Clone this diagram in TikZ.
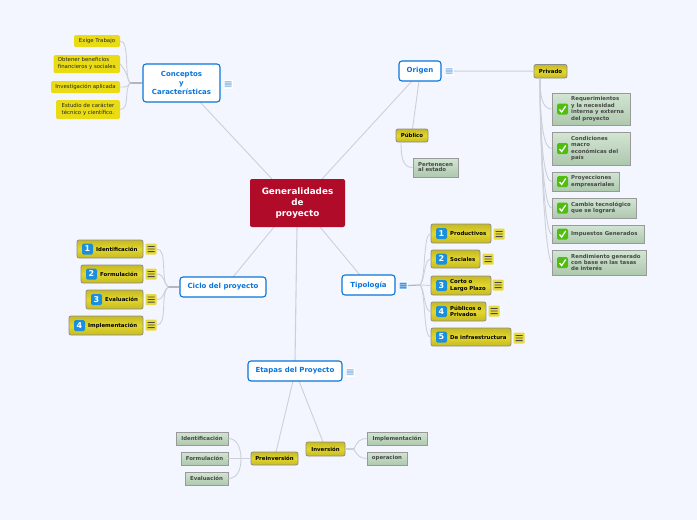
\documentclass[tikz,border=0pt]{standalone}
\usepackage{fontspec}
\setmainfont{DejaVu Sans}
\definecolor{bgc}{HTML}{F3F6FF}
\definecolor{blu}{HTML}{0A74DA}
\definecolor{lnk}{HTML}{CDD0D9}
\definecolor{stem}{HTML}{B4B6BC}
\definecolor{rootc}{HTML}{B00B28}
\definecolor{leafc}{HTML}{E9DC14}
\definecolor{yt}{HTML}{C6BA22}
\definecolor{ym}{HTML}{E2D62E}
\definecolor{gt}{HTML}{D2E6D3}
\definecolor{gb}{HTML}{AEC8AE}
\definecolor{numb}{HTML}{1A90DC}
\definecolor{chkc}{HTML}{4FBE10}
\definecolor{menul}{HTML}{A4C8EC}
\definecolor{menud}{HTML}{4C98DC}
\definecolor{menuy}{HTML}{E6DA3C}
\tikzset{
 x=1pt,y=-1pt,
 topic/.style={draw=blu,line width=1.1pt,fill=white,rounded corners=3pt,text=blu,font=\fontsize{7}{9.2}\selectfont\bfseries,align=center,inner sep=0pt},
 rootn/.style={fill=rootc,rounded corners=2pt,text=white,font=\fontsize{8.8}{11.2}\selectfont\bfseries,align=center,inner sep=0pt},
 leafy/.style={fill=leafc,rounded corners=1.5pt,text=black!85,font=\fontsize{5.4}{7}\selectfont,align=center,inner sep=0pt},
 ybox/.style={draw=black!45,line width=.8pt,top color=yt,bottom color=yt,middle color=ym,rounded corners=2pt,text=black,font=\fontsize{5.4}{6.6}\selectfont\bfseries,align=center,inner sep=0pt},
 gbox/.style={draw=black!40,line width=.8pt,top color=gt,bottom color=gb,text=black!72,font=\fontsize{5.4}{6.4}\selectfont\bfseries,align=center,inner sep=0pt},
 ytxt/.style={text=black,font=\fontsize{5.4}{6.6}\selectfont\bfseries,align=left,inner sep=0pt,anchor=west},
 gtxt/.style={text=black!72,font=\fontsize{5.4}{6.4}\selectfont\bfseries,align=left,inner sep=0pt,anchor=west},
 lnkl/.style={draw=lnk,line width=.9pt},
 lnkb/.style={draw=stem,line width=1.2pt},
 iconbg/.style={inner sep=0pt,minimum width=9pt,minimum height=9pt,fill=white},
 yiconbg/.style={inner sep=0pt,minimum width=11pt,minimum height=11pt,fill=menuy,rounded corners=1pt},
 numn/.style={inner sep=0pt,minimum width=11pt,minimum height=11pt,fill=numb,rounded corners=1.5pt,text=white,font=\fontsize{8}{8}\selectfont\bfseries},
 chkn/.style={inner sep=0pt,minimum width=11pt,minimum height=11pt,fill=chkc,rounded corners=1.5pt},
}
% style,name,x0,y0,x1,y1,text
\newcommand{\nbox}[7]{\node[#1,minimum width={(#5-#3)*1pt},minimum height={(#6-#4)*1pt}] (#2) at ({(#3+#5)/2},{(#4+#6)/2}) {#7};}
% numbered yellow box: name,x0,y0,x1,y1,number,text
\newcommand{\numbox}[7]{\nbox{ybox}{#1}{#2}{#3}{#4}{#5}{}
 \node[numn] (#1n) at ({#2+10.5},{(#3+#5)/2}) {#6};
 \node[ytxt] (#1t) at ({#2+19},{(#3+#5)/2}) {#7};}
% checked green box: name,x0,y0,x1,y1,text
\newcommand{\chkbox}[6]{\nbox{gbox}{#1}{#2}{#3}{#4}{#5}{}
 \node[chkn] (#1n) at ({#2+10.5},{(#3+#5)/2}) {};
 \draw[white,line width=1.3pt] ([shift={(-3,.5)}]#1n.center) -- ([shift={(-.8,3)}]#1n.center) -- ([shift={(3.2,-3)}]#1n.center);
 \node[gtxt] (#1t) at ({#2+19},{(#3+#5)/2}) {#6};}
\newcommand{\menuicon}[4]{\node[iconbg] (#1) at (#2,#3) {};
 \fill[#4] (#2-3.5,#3-3) rectangle (#2+3.5,#3-1.4) (#2-3.5,#3-.8) rectangle (#2+3.5,#3+.8) (#2-3.5,#3+1.4) rectangle (#2+3.5,#3+3);}
\newcommand{\ymenu}[3]{\node[yiconbg] (#1) at (#2,#3) {};
 \fill[black!72] (#2-3.5,#3-3) rectangle (#2+3.5,#3-2.2) (#2-3.5,#3-.4) rectangle (#2+3.5,#3+.4) (#2-3.5,#3+2.2) rectangle (#2+3.5,#3+3);}
% curve from a junction to the side of a child
\newcommand{\curveto}[4]{\draw[lnkl] (#1) .. controls #3 and #4 .. (#2);}
\begin{document}
\begin{tikzpicture}
\useasboundingbox (0,0) rectangle (697,520);
\fill[bgc] (0,0) rectangle (697,520);
% anchors of connectors
\coordinate (jc) at (130,83);
\coordinate (jt) at (420,285);
\coordinate (jz) at (168,287);
\coordinate (jp) at (540,78);
\coordinate (jb) at (401,142);
\coordinate (ji) at (354,449);
\coordinate (jq) at (241,459);
\coordinate (rtl) at (272,179);
\coordinate (rtr) at (322,179);
\coordinate (rbl) at (274,227);
\coordinate (rbr) at (320,227);
\coordinate (rbm) at (297,227);
\coordinate (cc) at (200,102);
\coordinate (oo) at (412,81);
\coordinate (ob) at (419,81);
\coordinate (pu) at (412.5,129);
\coordinate (cy) at (233,277);
\coordinate (ti) at (360,275);
\coordinate (et) at (295,361);
\coordinate (el) at (293,381);
\coordinate (er) at (299,381);
\coordinate (pr) at (276,452);
\coordinate (iv) at (323,442);
% connectors first
\draw[lnkl] (cc) -- (rtl);
\draw[lnkl] (oo) -- (rtr);
\draw[lnkl] (cy) -- (rbl);
\draw[lnkl] (ti) -- (rbr);
\draw[lnkl,line width=1.1pt] (et) -- (rbm);
\draw[lnkl] (ob) -- (pu);
\draw[lnkl] (el) -- (pr);
\draw[lnkl] (er) -- (iv);
% nodes
\nbox{rootn}{root}{250}{179}{345}{227}{Generalidades\\de\\proyecto}
\nbox{topic}{conc}{143}{64}{220}{102}{Conceptos\\y\\Características}
\nbox{topic}{orig}{399}{61}{441}{81}{Origen}
\nbox{topic}{tipo}{342}{275}{395}{295}{Tipología}
\nbox{topic}{ciclo}{180}{277}{266}{297}{Ciclo del proyecto}
\nbox{topic}{etap}{248}{361}{342}{381}{Etapas del Proyecto}
\menuicon{mc}{228}{84}{menul}
\menuicon{mo}{449}{71}{menul}
\menuicon{mt}{403}{285.5}{menud}
\menuicon{me}{350}{372}{menul}
% Conceptos
\nbox{leafy}{c1}{74}{35}{120}{47}{Exige Trabajo}
\nbox{leafy,align=left}{c2}{53.5}{55}{120}{73}{Obtener beneficios\\financieros y sociales}
\nbox{leafy}{c3}{51}{81}{120}{93}{Investigación aplicada}
\nbox{leafy,align=left}{c4}{56}{100}{120}{119}{Estudio de carácter\\técnico y científico.}
\draw[lnkb] (conc.west |- jc) -- (jc);
\curveto{jc}{c1.east}{(124,76)}{(130,41)}
\curveto{jc}{c2.east}{(127,79)}{(128,73)}
\curveto{jc}{c3.east}{(127,86)}{(130,87)}
\curveto{jc}{c4.east}{(124,90)}{(130,109.5)}
% Origen
\nbox{ybox}{priv}{534}{64.5}{567}{78}{Privado}
\nbox{ybox}{publ}{396}{129}{428}{142}{Público}
\nbox{gbox}{pert}{413}{158}{458}{177}{\begin{tabular}{@{}l@{}}Pertenecen\\[-1.3pt]al estado\end{tabular}}
\draw[lnkl,line width=1pt] (mo.east) -- (priv.west);
\curveto{jb}{pert.west}{(401,158)}{(403,167.5)}
\chkbox{g1}{552}{93}{630}{125}{Requerimientos\\y la necesidad\\interna y externa\\del proyecto}
\chkbox{g2}{552}{132}{630.5}{165}{Condiciones\\macro\\económicas del\\país}
\chkbox{g3}{552}{172}{619}{191}{Proyecciones\\empresariales}
\chkbox{g4}{552}{198}{636}{218}{Cambio tecnológico\\que se logrará}
\chkbox{g5}{552}{225}{644}{243}{Impuestos Generados}
\chkbox{g6}{552}{250}{646}{275}{Rendimiento generado\\con base en las tasas\\de interés}
\draw[stem,line width=.9pt] (jp) -- (540,105);
\curveto{jp}{g1.west}{(540,98)}{(543,109)}
\curveto{jp}{g2.west}{(540,125)}{(544,148.5)}
\curveto{jp}{g3.west}{(540,150)}{(545,181.5)}
\curveto{jp}{g4.west}{(540,170)}{(546,208)}
\curveto{jp}{g5.west}{(541,190)}{(547,234)}
\curveto{jp}{g6.west}{(541,205)}{(548,262.5)}
% Tipologia
\numbox{t1}{431}{224}{491}{243}{1}{Productivos}
\numbox{t2}{431}{250}{480}{268}{2}{Sociales}
\numbox{t3}{431}{276}{491}{295}{3}{Corto o\\Largo Plazo}
\numbox{t4}{431}{302}{486}{321}{4}{Públicos o\\Privados}
\numbox{t5}{431}{328}{511}{346}{5}{De infraestructura}
\ymenu{y1}{499}{234}
\ymenu{y2}{488}{259}
\ymenu{y3}{498}{285}
\ymenu{y4}{494}{311}
\ymenu{y5}{519}{338}
\draw[lnkb] (mt.east) -- (jt);
\curveto{jt}{t1.west}{(426,278)}{(423,233.5)}
\curveto{jt}{t2.west}{(425,280)}{(424,259)}
\curveto{jt}{t3.west}{(424,285)}{(427,285.5)}
\curveto{jt}{t4.west}{(425,290)}{(424,311.5)}
\curveto{jt}{t5.west}{(426,292)}{(423,337)}
% Ciclo
\numbox{z1}{77}{240}{143}{258}{1}{Identificación}
\numbox{z2}{81}{265}{143}{283}{2}{Formulación}
\numbox{z3}{86}{290}{143}{309}{3}{Evaluación}
\numbox{z4}{69}{316}{143}{335}{4}{Implementación}
\ymenu{w1}{151}{249}
\ymenu{w2}{151}{274}
\ymenu{w3}{151}{299.5}
\ymenu{w4}{151}{325}
\draw[lnkb] (ciclo.west) -- (jz);
\curveto{jz}{w1.east}{(160,280)}{(168,249)}
\curveto{jz}{w2.east}{(163,283)}{(165,274)}
\curveto{jz}{w3.east}{(163,290)}{(165,299.5)}
\curveto{jz}{w4.east}{(160,294)}{(168,325)}
% Etapas
\nbox{ybox}{prei}{251}{452}{298}{465}{Preinversión}
\nbox{ybox}{inve}{306}{442}{345}{456}{Inversión}
\nbox{gbox}{e1}{176}{432}{228}{445}{Identificación}
\nbox{gbox}{e2}{181}{452}{228}{465}{Formulación}
\nbox{gbox}{e3}{185}{472}{228}{485}{Evaluación}
\nbox{gbox}{e4}{367}{432}{427}{445}{Implementación}
\nbox{gbox}{e5}{367}{452}{407}{465}{operacion}
\draw[lnkl,line width=1.1pt] (e2.east) -- (prei.west);
\curveto{jq}{e1.east}{(241,448)}{(237,438.5)}
\curveto{jq}{e3.east}{(241,470)}{(237,478.5)}
\draw[lnkl,line width=1.1pt] (inve.east) -- (ji);
\curveto{ji}{e4.west}{(357,441)}{(361,438.5)}
\curveto{ji}{e5.west}{(357,456)}{(361,458.5)}
\end{tikzpicture}
\end{document}
